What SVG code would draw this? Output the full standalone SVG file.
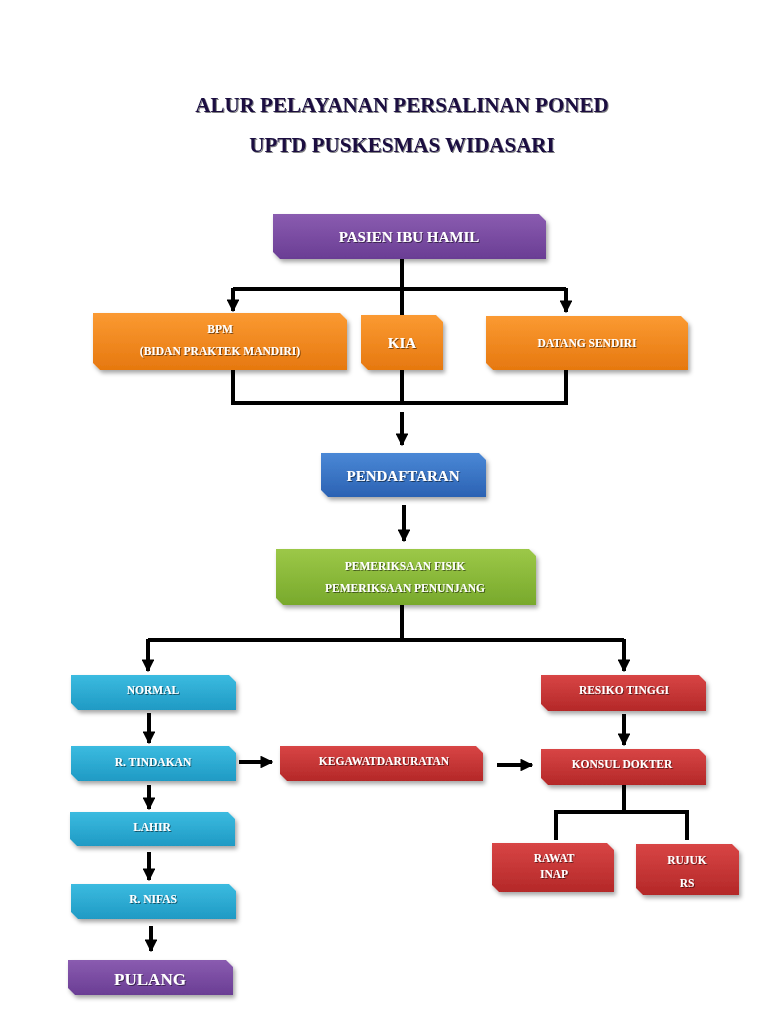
<svg xmlns="http://www.w3.org/2000/svg" width="768" height="1024" viewBox="0 0 768 1024">
<defs>
<filter id="sh" x="-10%" y="-20%" width="130%" height="150%"><feDropShadow dx="2" dy="3" stdDeviation="2" flood-color="#000" flood-opacity="0.35"/></filter>
<filter id="ts" x="-5%" y="-20%" width="110%" height="150%"><feDropShadow dx="1" dy="1" stdDeviation="0.6" flood-color="#000" flood-opacity="0.5"/></filter>
<linearGradient id="gp" x1="0" y1="0" x2="0" y2="1"><stop offset="0" stop-color="#8a5cb0"/><stop offset="1" stop-color="#6a3d94"/></linearGradient>
<linearGradient id="go" x1="0" y1="0" x2="0" y2="1"><stop offset="0" stop-color="#fb9a32"/><stop offset="1" stop-color="#e6780f"/></linearGradient>
<linearGradient id="gb" x1="0" y1="0" x2="0" y2="1"><stop offset="0" stop-color="#4a88d6"/><stop offset="1" stop-color="#2b62b3"/></linearGradient>
<linearGradient id="gg" x1="0" y1="0" x2="0" y2="1"><stop offset="0" stop-color="#9cc848"/><stop offset="1" stop-color="#78a92c"/></linearGradient>
<linearGradient id="gc" x1="0" y1="0" x2="0" y2="1"><stop offset="0" stop-color="#3bbbe0"/><stop offset="1" stop-color="#1f9ac4"/></linearGradient>
<linearGradient id="gr" x1="0" y1="0" x2="0" y2="1"><stop offset="0" stop-color="#d84545"/><stop offset="1" stop-color="#b42828"/></linearGradient>
<marker id="ah" viewBox="0 0 10 10" refX="9" refY="5" markerWidth="3.2" markerHeight="3.2" orient="auto"><path d="M0,0 L10,5 L0,10 z" fill="#000"/></marker>
</defs>
<style>
.t{font-family:"Liberation Serif",serif;font-weight:bold;fill:#fff;text-anchor:middle;filter:url(#ts)}
.h{font-family:"Liberation Serif",serif;font-weight:bold;fill:#1a1040;text-anchor:middle;font-size:21px;filter:url(#ts)}
.b{filter:url(#sh)}
.c{stroke:#000;stroke-width:4;fill:none}
.a{stroke:#000;stroke-width:4;fill:none;marker-end:url(#ah)}
</style>
<rect width="768" height="1024" fill="#fff"/>
<text class="h" x="402" y="112">ALUR PELAYANAN PERSALINAN PONED</text>
<text class="h" x="402" y="152">UPTD PUSKESMAS WIDASARI</text>

<g id="connectors">
<path class="c" d="M402,259 V315 M233,289 H566"/>
<path class="a" d="M233,288 V311"/>
<path class="a" d="M566,288 V312"/>
<path class="c" d="M233,370 V403 H566 V370 M402,370 V403"/>
<path class="a" d="M402,412 V445"/>
<path class="a" d="M404,505 V541"/>
<path class="c" d="M402,605 V640 M148,640 H624"/>
<path class="a" d="M148,639 V671"/>
<path class="a" d="M624,639 V671"/>
<path class="a" d="M149,713 V743"/>
<path class="a" d="M149,785 V809"/>
<path class="a" d="M149,852 V880"/>
<path class="a" d="M151,926 V951"/>
<path class="a" d="M239,762 H272"/>
<path class="a" d="M497,765 H532"/>
<path class="a" d="M624,714 V745"/>
<path class="c" d="M624,785 V812 M556,812 H687 M556,810 V840 M687,810 V840"/>
</g>

<g id="pasien"><polygon class="b" fill="url(#gp)" points="273,214 539,214 546,221 546,259 280,259 273,252"/><text class="t" x="409" y="242" font-size="15">PASIEN IBU HAMIL</text></g>
<g id="bpm"><polygon class="b" fill="url(#go)" points="93,313 340,313 347,320 347,370 100,370 93,363"/><text class="t" x="220" y="333" font-size="11.5">BPM</text><text class="t" x="220" y="355" font-size="11.5">(BIDAN PRAKTEK MANDIRI)</text></g>
<g id="kia"><polygon class="b" fill="url(#go)" points="361,315 436,315 443,322 443,370 368,370 361,363"/><text class="t" x="402" y="348" font-size="15">KIA</text></g>
<g id="datang"><polygon class="b" fill="url(#go)" points="486,316 681,316 688,323 688,370 493,370 486,363"/><text class="t" x="587" y="347" font-size="11.5">DATANG SENDIRI</text></g>
<g id="pendaftaran"><polygon class="b" fill="url(#gb)" points="321,453 479,453 486,460 486,497 328,497 321,490"/><text class="t" x="403" y="481" font-size="15">PENDAFTARAN</text></g>
<g id="pemeriksaan"><polygon class="b" fill="url(#gg)" points="276,549 529,549 536,556 536,605 283,605 276,598"/><text class="t" x="405" y="570" font-size="11.5">PEMERIKSAAN FISIK</text><text class="t" x="405" y="592" font-size="11.5">PEMERIKSAAN PENUNJANG</text></g>
<g id="normal"><polygon class="b" fill="url(#gc)" points="71,675 229,675 236,682 236,710 78,710 71,703"/><text class="t" x="153" y="694" font-size="11.5">NORMAL</text></g>
<g id="tindakan"><polygon class="b" fill="url(#gc)" points="71,746 229,746 236,753 236,781 78,781 71,774"/><text class="t" x="153" y="766" font-size="11.5">R. TINDAKAN</text></g>
<g id="lahir"><polygon class="b" fill="url(#gc)" points="70,812 228,812 235,819 235,846 77,846 70,839"/><text class="t" x="152" y="831" font-size="11.5">LAHIR</text></g>
<g id="nifas"><polygon class="b" fill="url(#gc)" points="71,884 229,884 236,891 236,919 78,919 71,912"/><text class="t" x="153" y="903" font-size="11.5">R. NIFAS</text></g>
<g id="pulang"><polygon class="b" fill="url(#gp)" points="68,960 226,960 233,967 233,995 75,995 68,988"/><text class="t" x="150" y="985" font-size="17">PULANG</text></g>
<g id="kegawat"><polygon class="b" fill="url(#gr)" points="280,746 476,746 483,753 483,781 287,781 280,774"/><text class="t" x="384" y="765" font-size="11.5">KEGAWATDARURATAN</text></g>
<g id="resiko"><polygon class="b" fill="url(#gr)" points="541,675 699,675 706,682 706,711 548,711 541,704"/><text class="t" x="624" y="694" font-size="11.5">RESIKO TINGGI</text></g>
<g id="konsul"><polygon class="b" fill="url(#gr)" points="541,749 699,749 706,756 706,785 548,785 541,778"/><text class="t" x="622" y="768" font-size="11.5">KONSUL DOKTER</text></g>
<g id="rawat"><polygon class="b" fill="url(#gr)" points="492,843 607,843 614,850 614,892 499,892 492,885"/><text class="t" x="554" y="862" font-size="11.5">RAWAT</text><text class="t" x="554" y="878" font-size="11.5">INAP</text></g>
<g id="rujuk"><polygon class="b" fill="url(#gr)" points="636,844 732,844 739,851 739,895 643,895 636,888"/><text class="t" x="687" y="864" font-size="11.5">RUJUK</text><text class="t" x="687" y="887" font-size="11.5">RS</text></g>
</svg>
